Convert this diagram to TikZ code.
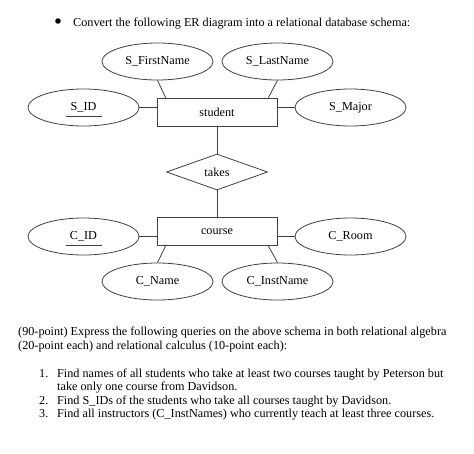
\documentclass[tikz,border=0pt]{standalone}
\usepackage{fontspec}
\setmainfont{Liberation Serif}
\usetikzlibrary{shapes.geometric}
\begin{document}
\begin{tikzpicture}[x=1pt,y=-1pt,
  every node/.style={font=\fontsize{12.2}{14}\selectfont},
  ln/.style={draw=black!75,line width=0.8pt},
  attr/.style={ln,ellipse,minimum width=111pt,minimum height=37pt,inner sep=0pt},
  ent/.style={ln,rectangle,minimum width=120pt,minimum height=28pt,inner sep=0pt},
  rel/.style={ln,diamond,aspect=2.8,minimum width=101pt,minimum height=36pt,inner sep=0pt},
  txt/.style={anchor=base west,inner sep=0pt}]
\useasboundingbox (0,0) rectangle (474,453);
% header
\fill[black] (58,21) circle (2.8);
\node[txt] (hdr) at (73,26) {Convert the following ER diagram into a relational database schema:};
% entities
\node[ent] (student) at (217,112) {student};
\node[ent] (course) at (217,231.5) {course};
\node[rel] (takes) at (217,172) {takes};
% student attributes
\node[attr] (sfn) at (157.5,61.5) {S\_FirstName};
\node[attr] (sln) at (277.5,61.5) {S\_LastName};
\node[attr] (sid) at (83.5,107.5) {S\_ID};
\node[attr] (smj) at (350.5,107.5) {S\_Major};
% course attributes
\node[attr] (cid) at (83.5,236.5) {C\_ID};
\node[attr] (crm) at (350.5,236.5) {C\_Room};
\node[attr] (cnm) at (157.5,281.5) {C\_Name};
\node[attr] (cin) at (277.5,281.5) {C\_InstName};
% underlines of keys
\draw[ln] ([xshift=-18pt,yshift=-8.5pt]sid.center) -- ([xshift=18pt,yshift=-8.5pt]sid.center);
\draw[ln] ([xshift=-18pt,yshift=-8.5pt]cid.center) -- ([xshift=18pt,yshift=-8.5pt]cid.center);
% connectors
\draw[ln] (sid.east) -- (sid.east -| student.west);
\draw[ln] (smj.west) -- (smj.west -| student.east);
\draw[ln] (sfn.south) -- ([xshift=9pt]student.north west);
\draw[ln] (sln.south) -- ([xshift=-9pt]student.north east);
\draw[ln] (student.south) -- (takes.north);
\draw[ln] (takes.south) -- (course.north);
\draw[ln] (cid.east) -- (cid.east -| course.west);
\draw[ln] (crm.west) -- (crm.west -| course.east);
\draw[ln] ([xshift=9pt]course.south west) -- (cnm.north);
\draw[ln] ([xshift=-9pt]course.south east) -- (cin.north);
% queries
\node[txt] (p1) at (18,335) {(90-point) Express the following queries on the above schema in both relational algebra};
\node[txt] (p2) at (18,349) {(20-point each) and relational calculus (10-point each):};
\node[txt] (n1) at (39,377) {1.};
\node[txt] (q1a) at (57,377) {Find names of all students who take at least two courses taught by Peterson but};
\node[txt] (q1b) at (57,390.5) {take only one course from Davidson.};
\node[txt] (n2) at (39,404) {2.};
\node[txt] (q2) at (57,404) {Find S\_IDs of the students who take all courses taught by Davidson.};
\node[txt] (n3) at (39,417.5) {3.};
\node[txt] (q3) at (57,417.5) {Find all instructors (C\_InstNames) who currently teach at least three courses.};
\end{tikzpicture}
\end{document}
